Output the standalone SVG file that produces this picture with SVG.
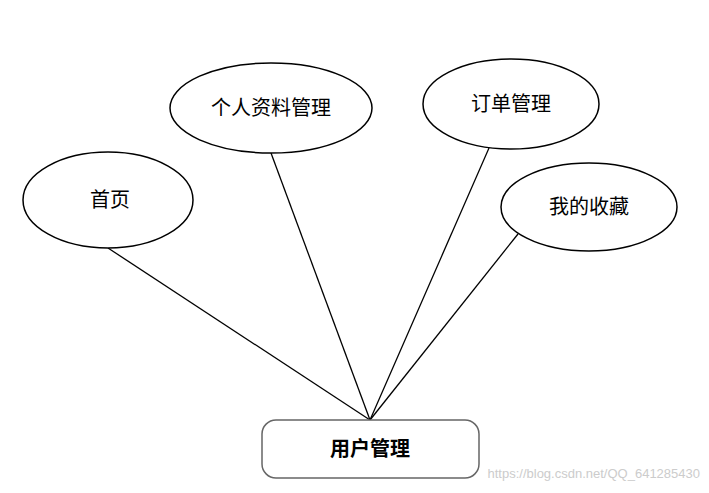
<svg xmlns="http://www.w3.org/2000/svg" width="709" height="493" viewBox="0 0 709 493">
<style>
.n{fill:#fff;stroke:#000;stroke-width:1.5}
.t{font-family:"Liberation Serif","Noto Sans CJK SC",serif;font-size:20px;text-anchor:middle;dominant-baseline:central}
.c line{stroke:#000;stroke-width:1.3}
</style>
<rect width="709" height="493" fill="#fff"/>
<g class="c">
<line x1="108" y1="248" x2="370" y2="420"/>
<line x1="271" y1="153" x2="370" y2="420"/>
<line x1="489" y1="148" x2="370" y2="420"/>
<line x1="518" y1="234" x2="370" y2="420"/>
</g>
<g id="n1"><ellipse class="n" cx="108" cy="200" rx="85" ry="48"/><text class="t" x="110" y="200">首页</text></g>
<g id="n2"><ellipse class="n" cx="271" cy="108" rx="101" ry="45"/><text class="t" x="271" y="108">个人资料管理</text></g>
<g id="n3"><ellipse class="n" cx="511" cy="104" rx="88" ry="45"/><text class="t" x="511" y="104">订单管理</text></g>
<g id="n4"><ellipse class="n" cx="589" cy="207" rx="88" ry="44"/><text class="t" x="589" y="207">我的收藏</text></g>
<g id="n5"><rect x="262" y="420" width="217" height="58" rx="14" fill="#fff" stroke="#666" stroke-width="1.5"/><text class="t" x="370" y="449" font-weight="bold" font-size="22">用户管理</text></g>
<text x="700" y="478" font-family="Liberation Sans,sans-serif" font-size="13" fill="#ccc" text-anchor="end">https://blog.csdn.net/QQ_641285430</text>
</svg>
